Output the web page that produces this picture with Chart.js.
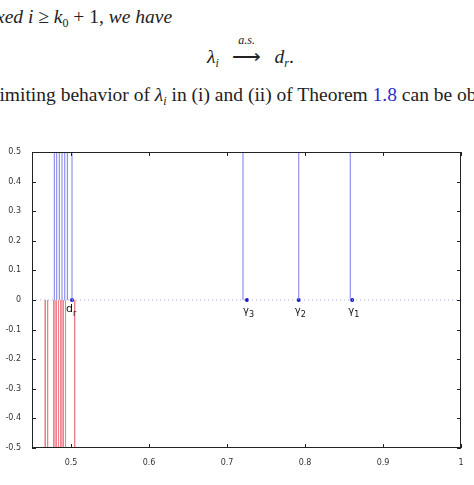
<!DOCTYPE html>
<html><head><meta charset="utf-8">
<script src="https://cdn.jsdelivr.net/npm/chart.js@4"></script>
<style>
body{margin:0;width:474px;height:485px;overflow:hidden;background:#fff;font-family:"Liberation Serif",serif;position:relative}
.t{position:absolute;white-space:nowrap;font-size:19.5px;color:#222}
sub{font-size:12px;vertical-align:-4px;line-height:0}
#wrap{position:absolute;left:0;top:140px;width:474px;height:345px}
</style></head><body>
<div class="t" style="left:-4px;top:6px;font-style:italic">xed <i>i</i> ≥ <i>k</i><sub style="font-style:normal">0</sub> <span style="font-style:normal">+ 1,</span> we have</div>
<div class="t" style="left:207px;top:45px"><i>λ<sub>i</sub></i> <span style="display:inline-block;position:relative;width:46px;text-align:center"><span style="position:absolute;left:0;right:0;top:-12px;font-size:12px;font-style:italic">a.s.</span>⟶</span> <i>d<sub>r</sub></i>.</div>
<div class="t" style="left:-6px;top:84px">limiting behavior of <i>λ<sub>i</sub></i> in (i) and (ii) of Theorem <span style="color:#2b2bd6">1.8</span> can be ob</div>
<div id="wrap"><canvas id="c" width="474" height="345"></canvas></div>
<script>
const blueX=[0.4786,0.4817,0.485,0.4885,0.492,0.4953,0.5013,0.7205,0.792,0.858];
const redX=[0.467,0.470,0.478,0.481,0.484,0.487,0.490,0.493,0.5047];
const gammaX=[0.7256,0.792,0.8605];
const gammaLbl=['γ3','γ2','γ1'];
const drX=[0.5013];
const xTicks=[0.5,0.6,0.7,0.8,0.9,1];
const yTicks=[-0.5,-0.4,-0.3,-0.2,-0.1,0,0.1,0.2,0.3,0.4,0.5];
function seg(xs,y){const p=[];xs.forEach(x=>{p.push({x,y:0},{x,y},{x,y:null});});return p;}
const labels={id:'lbl',afterDatasetsDraw(ch){const c=ch.ctx,xs=ch.scales.x,ys=ch.scales.y;c.save();c.fillStyle='#111';
 gammaX.forEach((g,i)=>{const px=xs.getPixelForValue(g),py=ys.getPixelForValue(0);c.font='10px "DejaVu Sans"';c.fillText('γ',px-4,py+14);c.font='8px "DejaVu Sans"';c.fillText(gammaLbl[i].slice(1),px+2,py+17);});
 drX.forEach(d=>{const px=xs.getPixelForValue(d),py=ys.getPixelForValue(0);c.font='11px "DejaVu Sans"';c.fillText('d',px-6,py+12);c.font='8px "DejaVu Sans"';c.fillText('r',px+1,py+16);});
 c.strokeStyle='#222';c.lineWidth=1;const a=ch.chartArea;c.strokeRect(a.left+0.5,a.top+0.5,a.right-a.left-1,a.bottom-a.top-1);
 c.beginPath();xTicks.forEach(t=>{const px=Math.round(xs.getPixelForValue(t))+0.5;c.moveTo(px,a.bottom);c.lineTo(px,a.bottom-4);c.moveTo(px,a.top);c.lineTo(px,a.top+4);});
 yTicks.forEach(t=>{const py=Math.round(ys.getPixelForValue(t))+0.5;c.moveTo(a.left,py);c.lineTo(a.left+4,py);c.moveTo(a.right,py);c.lineTo(a.right-4,py);});c.stroke();c.restore();}};
new Chart(document.getElementById('c'),{type:'scatter',
data:{datasets:[
{data:[{x:0.45,y:0},{x:1,y:0}],showLine:true,borderColor:'#aab0dd',borderWidth:1,borderDash:[1,3],pointRadius:0},
{data:seg(blueX,0.5),showLine:true,spanGaps:false,borderColor:'#7a7aee',borderWidth:1,pointRadius:0},
{data:seg(redX,-0.5),showLine:true,spanGaps:false,borderColor:'#ee7f88',borderWidth:1,pointRadius:0},
{data:gammaX.concat(drX).map(x=>({x,y:0})),pointRadius:2,pointBackgroundColor:'#1a1ad0',pointBorderWidth:0}
]},
plugins:[labels],
options:{animation:false,responsive:false,layout:{padding:{top:12,right:13,bottom:0,left:0}},
plugins:{legend:{display:false},tooltip:{enabled:false}},
scales:{
x:{type:'linear',min:0.45,max:1,afterBuildTicks(a){a.ticks=xTicks.map(v=>({value:v}));},afterFit(a){a.height=37;},
 grid:{display:false},border:{display:false},ticks:{color:'#333',font:{size:8,family:'DejaVu Sans'},padding:2,callback:v=>String(v)}},
y:{min:-0.5,max:0.5,afterBuildTicks(a){a.ticks=yTicks.map(v=>({value:v}));},afterFit(a){a.width=32;},
 grid:{display:false},border:{display:false},ticks:{color:'#333',font:{size:8,family:'DejaVu Sans'},padding:3,callback:v=>String(Math.round(v*10)/10)}}}}});
</script></body></html>
